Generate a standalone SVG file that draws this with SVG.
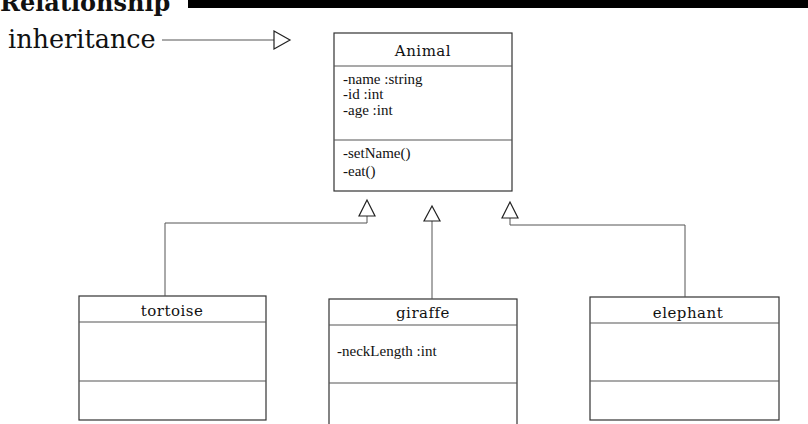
<svg xmlns="http://www.w3.org/2000/svg" width="808" height="424" viewBox="0 0 808 424">
<style>
.box{fill:#fff;stroke:#333;stroke-width:1.2}
.sep{stroke:#555;stroke-width:1.2}
.t{font-family:"DejaVu Serif","Liberation Serif",serif;font-size:15px;fill:#111;text-anchor:middle;letter-spacing:0.5px}
.a{font-family:"Liberation Serif",serif;font-size:15px;fill:#111}
.c{fill:none;stroke:#555;stroke-width:1}
.tri{fill:#fff;stroke:#222;stroke-width:1.2}
</style>
<rect width="808" height="424" fill="#fff"/>
<text x="0" y="11" font-family="DejaVu Serif,serif" font-weight="bold" font-size="24" fill="#111">Relationship</text>
<rect x="188" y="0" width="620" height="8" fill="#000"/>
<g id="legend">
<text x="8" y="48" font-family="DejaVu Serif,serif" font-size="25.5" fill="#111">inheritance</text>
<line x1="162" y1="40" x2="274" y2="40" class="c"/>
<polygon points="274,31 290,40 274,49" class="tri"/>
</g>
<g id="animal">
<rect x="334" y="33" width="178" height="158" class="box"/>
<line x1="334" y1="66" x2="512" y2="66" class="sep"/>
<line x1="334" y1="140" x2="512" y2="140" class="sep"/>
<text x="423" y="56" class="t">Animal</text>
<text x="343" y="84" class="a">-name :string</text>
<text x="343" y="99" class="a">-id :int</text>
<text x="343" y="115" class="a">-age :int</text>
<text x="343" y="158" class="a">-setName()</text>
<text x="343" y="176" class="a">-eat()</text>
</g>
<g id="tortoise">
<rect x="79" y="296" width="187" height="124" class="box"/>
<line x1="79" y1="322" x2="266" y2="322" class="sep"/>
<line x1="79" y1="381" x2="266" y2="381" class="sep"/>
<text x="172" y="316" class="t">tortoise</text>
</g>
<g id="giraffe">
<rect x="329" y="299" width="188" height="130" class="box"/>
<line x1="329" y1="325" x2="517" y2="325" class="sep"/>
<line x1="329" y1="383" x2="517" y2="383" class="sep"/>
<text x="423" y="318" class="t">giraffe</text>
<text x="337" y="356" class="a">-neckLength :int</text>
</g>
<g id="elephant">
<rect x="590" y="297" width="189" height="123" class="box"/>
<line x1="590" y1="323" x2="779" y2="323" class="sep"/>
<line x1="590" y1="381" x2="779" y2="381" class="sep"/>
<text x="688" y="318" class="t">elephant</text>
</g>
<g id="connectors">
<polyline points="165,296 165,223 367,223 367,216" class="c"/>
<polygon points="367,200 359,216 375,216" class="tri"/>
<polyline points="432,299 432,221" class="c"/>
<polygon points="432,206 424,221 440,221" class="tri"/>
<polyline points="685,297 685,225 510,225 510,218" class="c"/>
<polygon points="510,202 502,218 518,218" class="tri"/>
</g>
</svg>
